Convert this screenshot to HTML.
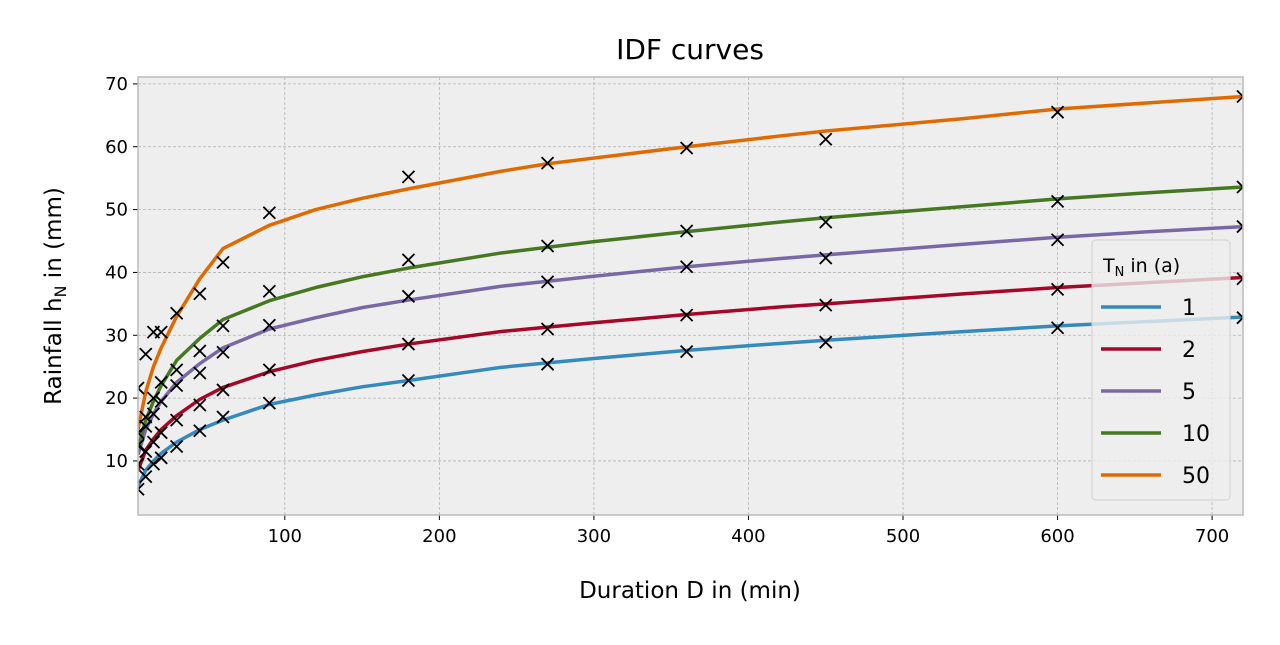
<!DOCTYPE html>
<html><head><meta charset="utf-8"><style>
body{margin:0;background:#fff;font-family:"Liberation Sans","DejaVu Sans",sans-serif}
svg text{font-family:"DejaVu Sans","Liberation Sans",sans-serif}
</style></head><body>
<svg id="c" width="1280" height="640" xmlns="http://www.w3.org/2000/svg"></svg>
<script>
const durations=[5,10,15,20,30,45,60,90,180,270,360,450,600,720];
const lineDur=[5,10,15,20,30,45,60,90,120,150,180,240,270,300,360,420,450,540,600,660,720];
const periods=["1","2","5","10","50"];
const colors=["#348abd","#a60628","#7a68a6","#467821","#e06a00"];
const line1=[6,8.5,10,11.2,13,15,16.5,19,20.5,21.8,22.8,24.9,25.6,26.3,27.6,28.7,29.2,30.6,31.5,32.2,32.9];
const line2=[8.5,11.7,13.5,15,17.2,19.8,21.7,24.2,26,27.4,28.6,30.6,31.3,32,33.3,34.5,35,36.6,37.6,38.4,39.2];
const line5=[11,15,17.5,19.5,22.5,25.5,28,31,32.8,34.4,35.6,37.8,38.6,39.4,40.9,42.2,42.8,44.5,45.6,46.5,47.3];
const line10=[12,16.5,19.5,22,26,29.5,32.5,35.5,37.6,39.3,40.7,43.1,44,44.9,46.5,48,48.7,50.5,51.7,52.7,53.6];
const line50=[15,21,25,28,33,39,43.8,47.5,50,51.8,53.3,56.1,57.3,58.2,60,61.7,62.5,64.5,66,67,68];
const obs1=[5.5,7.5,9.5,10.5,12.3,14.8,17,19.2,22.8,25.4,27.4,28.9,31.2,32.8];
const obs2=[9.5,11.5,13,14.5,16.5,18.9,21.3,24.5,28.6,31,33.2,34.8,37.3,39];
const obs5=[12.5,15.5,17.5,19.5,22,24,27.3,31.6,36.2,38.5,40.9,42.3,45.2,47.3];
const obs10=[14.5,17,20,22.5,24.5,27.5,31.5,37,42,44.2,46.6,48,51.3,53.6];
const obs50=[21.6,27,30.5,30.5,33.5,36.6,41.6,49.5,55.2,57.4,59.8,61.2,65.5,68];
const xTicks=[100,200,300,400,500,600,700];
const yTicks=[10,20,30,40,50,60,70];
const lines=[line1,line2,line5,line10,line50];
const obs=[obs1,obs2,obs5,obs10,obs50];
const L=138,R=1243,T=77,B=515,xmin=5,xmax=720,ymin=1.4,ymax=71.1;
const sx=v=>L+(v-xmin)/(xmax-xmin)*(R-L);
const sy=v=>B-(v-ymin)/(ymax-ymin)*(B-T);
const svg=document.getElementById('c');const NS="http://www.w3.org/2000/svg";
function mk(t,a,p){const e=document.createElementNS(NS,t);for(const k in a)e.setAttribute(k,a[k]);(p||svg).appendChild(e);return e;}
let e=mk('rect',{x:L,y:T,width:R-L,height:B-T,fill:'#eeeeee'});


const clip=mk('clipPath',{id:'cp'});mk('rect',{x:L,y:T,width:R-L,height:B-T},clip);
xTicks.forEach(v=>{const x=sx(v);
e=mk('line',{x1:x,x2:x,y1:T,y2:B,stroke:'#b2b2b2','stroke-dasharray':'3,2','stroke-width':0.8});


mk('line',{x1:x,x2:x,y1:B,y2:B+5,stroke:'#000','stroke-width':1});
e=mk('text',{x:x,y:B+27,'font-size':18,'text-anchor':'middle'});e.textContent=v;

});
yTicks.forEach(v=>{const y=sy(v);
e=mk('line',{x1:L,x2:R,y1:y,y2:y,stroke:'#b2b2b2','stroke-dasharray':'3,2','stroke-width':0.8});


mk('line',{x1:L-5,x2:L,y1:y,y2:y,stroke:'#000','stroke-width':1});
e=mk('text',{x:L-10,y:y+6,'font-size':18,'text-anchor':'end'});e.textContent=v;

});
const g=mk('g',{'clip-path':'url(#cp)'});
lines.forEach((s,i)=>{
e=mk('polyline',{points:lineDur.map((d,j)=>sx(d)+','+sy(s[j])).join(' '),fill:'none',stroke:colors[i],'stroke-width':3.5,'stroke-linejoin':'round'},g);

});
obs.forEach((s,i)=>s.forEach((v,j)=>{const x=sx(durations[j]),y=sy(v);
e=mk('path',{d:`M${x-6},${y-6}L${x+6},${y+6}M${x-6},${y+6}L${x+6},${y-6}`,stroke:'#000','stroke-width':1.8},g);

}));
mk('rect',{x:L,y:T,width:R-L,height:B-T,fill:'none',stroke:'#bcbcbc','stroke-width':1.5});
e=mk('text',{x:690,y:59,'font-size':28,'text-anchor':'middle'});e.textContent='IDF curves';


e=mk('text',{x:690,y:598,'font-size':23,'text-anchor':'middle'});e.textContent='Duration D in (min)';


e=mk('text',{x:0,y:0,'font-size':23,'text-anchor':'middle',transform:'translate(61,296) rotate(-90)'});
e.innerHTML='Rainfall h<tspan font-size="16" dy="5">N</tspan><tspan dy="-5"> in (mm)</tspan>';


const lg=mk('g',{});


mk('rect',{x:1092,y:240,width:138,height:260,rx:4,fill:'#eeeeee','fill-opacity':0.8,stroke:'#d0d0d0'},lg);
e=mk('text',{x:1103,y:272,'font-size':19},lg);e.innerHTML='T<tspan font-size="13" dy="4">N</tspan><tspan dy="-4"> in (a)</tspan>';
periods.forEach((p,i)=>{const y=307+i*42;
const en=mk('g',{},lg);


mk('line',{x1:1101,x2:1161,y1:y,y2:y,stroke:colors[i],'stroke-width':3.5},en);
const t=mk('text',{x:1182,y:y+8,'font-size':22},en);t.textContent=p;});
</script>
</body></html>
